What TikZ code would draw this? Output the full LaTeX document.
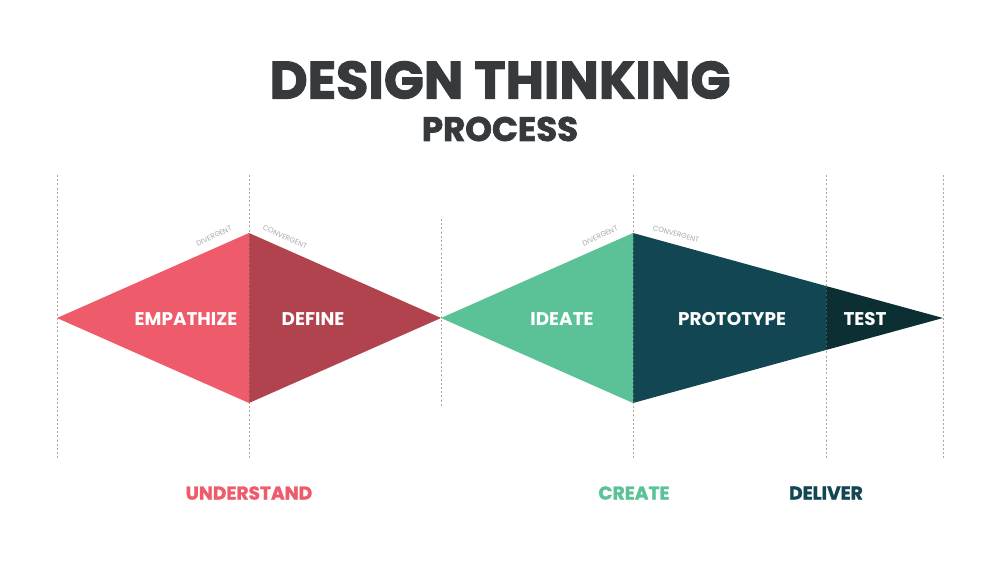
\documentclass[tikz,border=0pt]{standalone}
\usepackage{fontspec}
\setmainfont{Poppins}
\newfontfamily\titlefont{Poppins}[BoldFeatures={FakeBold=2}]
\newfontfamily\phasefont{Poppins}[BoldFeatures={FakeBold=1.5}]
\definecolor{pinkA}{HTML}{EE5B6A}
\definecolor{redB}{HTML}{B0434D}
\definecolor{greenC}{HTML}{5BC297}
\definecolor{tealD}{HTML}{124652}
\definecolor{tealE}{HTML}{0C2F33}
\definecolor{titlegray}{HTML}{363A3C}
\definecolor{dashcol}{HTML}{B5A69C}
\definecolor{smallgray}{HTML}{A8A8A8}
\tikzset{
  guide/.style={draw=dashcol, line width=0.9pt, dash pattern=on 2pt off 2.2pt},
  guidein/.style={guide, opacity=0.35},
  stagelabel/.style={text=white, font=\bfseries\fontsize{18.4}{18.4}\selectfont, inner sep=0pt},
  phaselabel/.style={font=\phasefont\bfseries\fontsize{18.6}{18.6}\selectfont, inner sep=0pt},
  tinylabel/.style={text=smallgray, font=\fontsize{7.2}{7.2}\selectfont, inner sep=0pt}
}
\begin{document}
\begin{tikzpicture}[x=1pt,y=-1pt]
\useasboundingbox (0,0) rectangle (1000,563);
\fill[white] (0,0) rectangle (1000,563);
% key points
\coordinate (L) at (57,318);
\coordinate (T1) at (249,233);
\coordinate (B1) at (249,403);
\coordinate (M) at (441,318);
\coordinate (T2) at (633,233);
\coordinate (B2) at (633,403);
\coordinate (TT) at (826,286);
\coordinate (TB) at (826,350);
\coordinate (R) at (943,318);
% guide line ends
\coordinate (g1a) at (57,175);  \coordinate (g1b) at (57,460);
\coordinate (g2a) at (249,175); \coordinate (g2b) at (249,460);
\coordinate (g3a) at (441,219); \coordinate (g3b) at (441,406);
\coordinate (g4a) at (633,175); \coordinate (g4b) at (633,460);
\coordinate (g5a) at (826,175); \coordinate (g5b) at (826,460);
\coordinate (g6a) at (943,175); \coordinate (g6b) at (943,460);
\draw[guide] (g1a) -- (g1b);
\draw[guide] (g2a) -- (g2b);
\draw[guide] (g3a) -- (g3b);
\draw[guide] (g4a) -- (g4b);
\draw[guide] (g5a) -- (g5b);
\draw[guide] (g6a) -- (g6b);
% shapes
\fill[pinkA] (L) -- (T1) -- (B1) -- cycle;
\fill[redB] (T1) -- (M) -- (B1) -- cycle;
\fill[greenC] (M) -- (T2) -- (B2) -- cycle;
\fill[tealD] (T2) -- (TT) -- (TB) -- (B2) -- cycle;
\fill[tealE] (TT) -- (R) -- (TB) -- cycle;
% faint guides over shapes
\draw[guidein] (T1) -- (B1);
\draw[guidein] (T2) -- (B2);
\draw[guidein] (TT) -- (TB);
% title
\node[text=titlegray, inner sep=0pt] (title) at (500,80) {\titlefont\bfseries\fontsize{52.5}{52.5}\selectfont DESIGN THINKING};
\node[text=titlegray, inner sep=0pt] (subtitle) at (500,129) {\titlefont\bfseries\fontsize{34}{34}\selectfont PROCESS};
% small labels
\node[tinylabel, rotate=25] (div1) at (214,236) {DIVERGENT};
\node[tinylabel, rotate=-24] (conv1) at (285,237) {CONVERGENT};
\node[tinylabel, rotate=25] (div2) at (600,236) {DIVERGENT};
\node[tinylabel, rotate=-15.5] (conv2) at (676,234) {CONVERGENT};
% stage labels
\node[stagelabel] (emp) at (186,319) {EMPATHIZE};
\node[stagelabel] (def) at (313,319) {DEFINE};
\node[stagelabel] (ide) at (562,319) {IDEATE};
\node[stagelabel] (pro) at (732,319) {PROTOTYPE};
\node[stagelabel] (tes) at (865,319) {TEST};
% phase labels
\node[phaselabel, text=pinkA] (und) at (249,493) {UNDERSTAND};
\node[phaselabel, text=greenC] (cre) at (634,493) {CREATE};
\node[phaselabel, text=tealD] (del) at (826,493) {DELIVER};
\end{tikzpicture}
\end{document}
